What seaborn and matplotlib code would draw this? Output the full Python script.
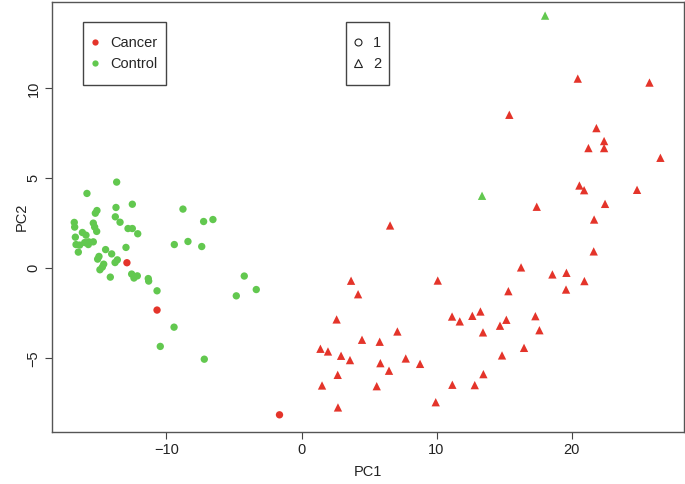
import numpy as np
import pandas as pd
import matplotlib
matplotlib.use("Agg")
import matplotlib.pyplot as plt
import seaborn as sns
from matplotlib.lines import Line2D
from matplotlib.patches import Rectangle

# ---- data ----
green_circle_x = [-13.69, -15.89, -15.15, -15.27, -13.74, -12.53, -13.79, -13.44, -16.83, -16.80,
                  -15.42, -15.32, -15.17, -12.85, -12.53, -12.13, -16.23, -15.96, -16.75, -16.70,
                  -16.43, -16.06, -15.76, -15.79, -15.42, -16.53, -13.00, -14.51, -14.06, -15.00,
                  -15.10, -13.64, -13.81, -14.65, -14.75, -14.93, -14.16, -12.58, -12.41, -12.16,
                  -11.35, -11.32, -10.70, -9.44, -10.46, -7.20, -8.78, -7.25, -6.56, -9.42,
                  -8.41, -7.39, -4.24, -4.83, -3.35]
green_circle_y = [4.79, 4.16, 3.21, 3.06, 3.38, 3.56, 2.86, 2.56, 2.55, 2.29,
                  2.51, 2.29, 2.05, 2.21, 2.21, 1.92, 1.99, 1.84, 1.73, 1.32,
                  1.29, 1.43, 1.47, 1.32, 1.47, 0.90, 1.16, 1.04, 0.80, 0.66,
                  0.51, 0.47, 0.32, 0.23, 0.07, -0.08, -0.49, -0.32, -0.54, -0.42,
                  -0.57, -0.71, -1.25, -3.27, -4.34, -5.05, 3.29, 2.60, 2.71, 1.32,
                  1.49, 1.21, -0.43, -1.53, -1.18]

red_circle_x = [-12.93, -10.70, -1.63]
red_circle_y = [0.31, -2.32, -8.14]

green_tri_x = [18.04, 13.37]
green_tri_y = [14.04, 4.03]

red_tri_x = [3.67, 4.19, 10.09, 6.56, 2.60, 7.10, 4.48, 5.79, 1.40, 1.96,
             2.93, 3.59, 5.84, 7.72, 8.78, 6.48, 2.68, 1.52, 5.57, 2.70,
             9.94, 11.17, 12.83, 13.47, 14.85, 11.15, 11.72, 12.65, 13.25, 15.17,
             14.70, 17.32, 17.62, 13.44, 16.48, 15.32, 19.59, 16.26, 18.58, 19.62,
             20.95, 21.64, 21.67, 17.42, 22.48, 20.58, 20.93, 24.85, 26.58, 21.25,
             22.41, 22.41, 21.84, 15.39, 20.46, 25.77]
red_tri_y = [-0.69, -1.44, -0.68, 2.38, -2.84, -3.51, -3.97, -4.08, -4.47, -4.62,
             -4.86, -5.10, -5.27, -5.01, -5.31, -5.69, -5.92, -6.51, -6.55, -7.73,
             -7.44, -6.47, -6.49, -5.88, -4.84, -2.68, -2.95, -2.64, -2.40, -2.86,
             -3.19, -2.66, -3.44, -3.56, -4.42, -1.27, -1.18, 0.05, -0.34, -0.25,
             -0.71, 0.94, 2.71, 3.42, 3.58, 4.60, 4.34, 4.36, 6.14, 6.68,
             6.68, 7.07, 7.79, 8.53, 10.54, 10.32]

groups = ["Cancer", "Control"]
clusters = ["1", "2"]
x_ticks = [-10, 0, 10, 20]
y_ticks = [-5, 0, 5, 10]

RED = "#E4342A"
GREEN = "#62C84F"
FS = 10.5
W, H = 685, 484

df = pd.concat([
    pd.DataFrame({"PC1": green_circle_x, "PC2": green_circle_y, "group": "Control", "cluster": "1"}),
    pd.DataFrame({"PC1": red_circle_x, "PC2": red_circle_y, "group": "Cancer", "cluster": "1"}),
    pd.DataFrame({"PC1": green_tri_x, "PC2": green_tri_y, "group": "Control", "cluster": "2"}),
    pd.DataFrame({"PC1": red_tri_x, "PC2": red_tri_y, "group": "Cancer", "cluster": "2"}),
], ignore_index=True)

sns.set_style("white")
plt.rcParams["font.family"] = ["Liberation Sans", "DejaVu Sans"]

fig = plt.figure(figsize=(6.85, 4.84), dpi=100)
ax = fig.add_axes([0.0755, 0.108, 0.9225, 0.888])

sns.scatterplot(data=df, x="PC1", y="PC2", hue="group", style="cluster", size="cluster",
                hue_order=groups, style_order=clusters, size_order=clusters,
                palette={"Cancer": RED, "Control": GREEN},
                markers={"1": "o", "2": "^"}, sizes={"1": 28, "2": 36}, linewidth=0,
                legend=False, ax=ax)

ax.set_xlim(-18.5, 28.3)
ax.set_ylim(-9.08, 14.8)
ax.set_xticks(x_ticks)
ax.set_xticklabels(["\u221210", "0", "10", "20"])
ax.set_yticks(y_ticks)
ax.set_yticklabels(["\u22125", "0", "5", "10"], rotation=90, va="center")
ax.tick_params(axis="both", direction="out", length=5, width=0.8, color="#444444",
               labelsize=FS, labelcolor="#222222", bottom=True, left=True, pad=3)
for sp in ax.spines.values():
    sp.set_visible(True)
    sp.set_color("#555555")
    sp.set_linewidth(1.0)
ax.set_xlabel("PC1", fontsize=FS, color="#222222", va="center")
ax.set_ylabel("PC2", fontsize=FS, color="#222222", va="center")
ax.xaxis.set_label_coords(367.7 / W, 1 - 472 / H, transform=fig.transFigure)
ax.yaxis.set_label_coords(22 / W, 1 - 217 / H, transform=fig.transFigure)


def boxed_legend(handles, labels, x0, y0, x1, y1, add=True):
    rect = Rectangle((x0 / W, 1 - y1 / H), (x1 - x0) / W, (y1 - y0) / H,
                     transform=fig.transFigure, facecolor="white",
                     edgecolor="#444444", linewidth=1.0, zorder=4, clip_on=False)
    ax.add_patch(rect)
    leg = ax.legend(handles, labels, loc="center",
                    bbox_to_anchor=((x0 + x1) / 2 / W, 1 - (y0 + y1) / 2 / H),
                    bbox_transform=fig.transFigure,
                    fontsize=FS, frameon=False, handlelength=0.5,
                    handletextpad=0.8, borderpad=0, labelspacing=0.45, borderaxespad=0)
    leg.set_zorder(5)
    if add:
        ax.add_artist(leg)
    return leg


h1 = [Line2D([], [], marker="o", linestyle="", color=RED, markersize=4.5, markeredgewidth=0),
      Line2D([], [], marker="o", linestyle="", color=GREEN, markersize=4.5, markeredgewidth=0)]
boxed_legend(h1, groups, 82.7, 22.3, 166.3, 84.7)

h2 = [Line2D([], [], marker="o", linestyle="", markerfacecolor="none", markeredgecolor="#222222",
             markersize=5, markeredgewidth=0.8),
      Line2D([], [], marker="^", linestyle="", markerfacecolor="none", markeredgecolor="#222222",
             markersize=5.5, markeredgewidth=0.8)]
boxed_legend(h2, clusters, 346.3, 22.3, 389.3, 84.7, add=False)

fig.savefig("out.png", dpi=100, facecolor="white")
